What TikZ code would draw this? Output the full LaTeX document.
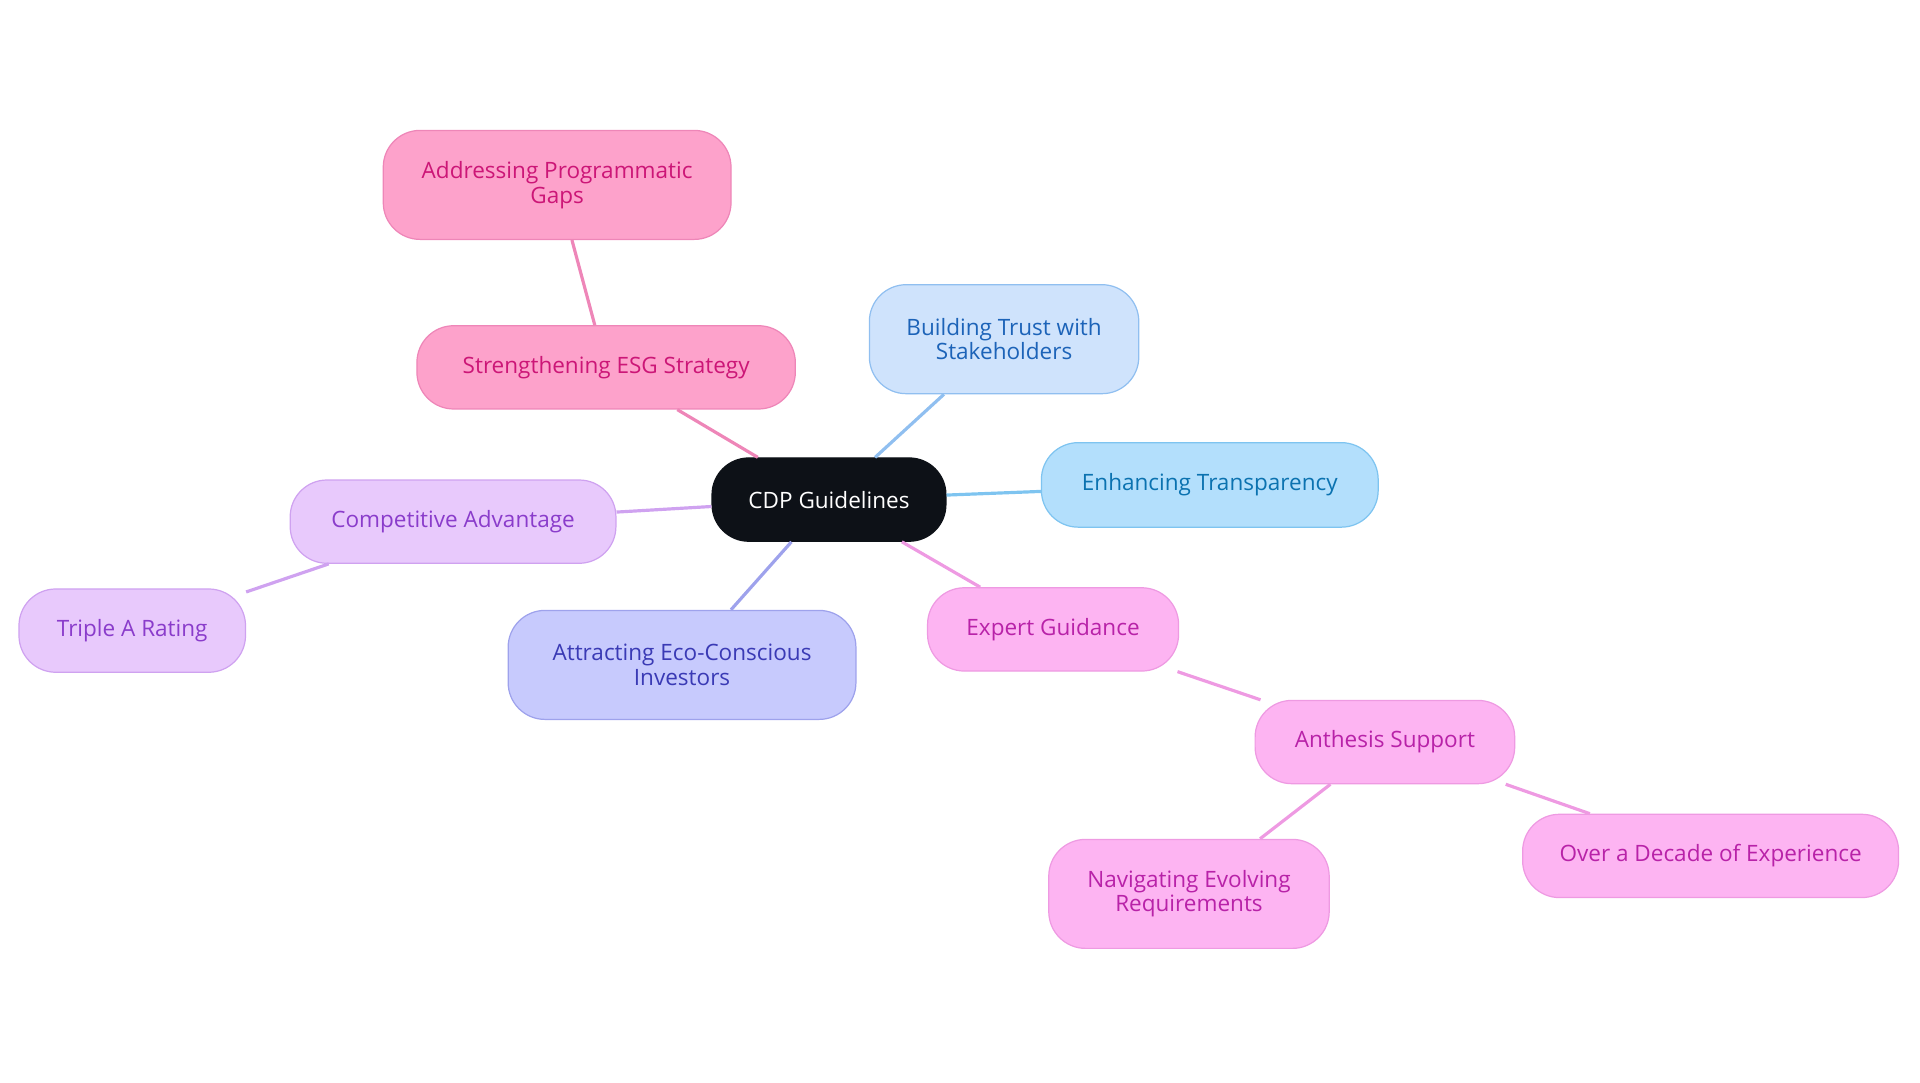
\documentclass[tikz,border=0pt]{standalone}
\usepackage{fontspec}
\setmainfont{Open Sans}
\begin{document}
\begin{tikzpicture}[x=0.5pt,y=-0.5pt,
 box/.style={rounded corners=15pt,draw,line width=0.5pt,inner sep=0pt,align=center,font=\fontsize{9.2}{10}\selectfont},
 ln/.style={line width=1.3pt}]
\definecolor{bfill}{HTML}{CFE3FC}\definecolor{bdraw}{HTML}{90BFF0}\definecolor{btext}{HTML}{1C63B8}
\definecolor{tfill}{HTML}{B3DFFC}\definecolor{tdraw}{HTML}{7EC4F0}\definecolor{ttext}{HTML}{0B72B0}
\definecolor{pfill}{HTML}{FDB4F2}\definecolor{pdraw}{HTML}{EE9AE2}\definecolor{ptext}{HTML}{B822A8}
\definecolor{afill}{HTML}{C7CAFD}\definecolor{adraw}{HTML}{9EA2EC}\definecolor{atext}{HTML}{3A3AB5}
\definecolor{cfill}{HTML}{E8C9FC}\definecolor{cdraw}{HTML}{CFA2F0}\definecolor{ctext}{HTML}{8A3CCB}
\definecolor{sfill}{HTML}{FDA2CB}\definecolor{sdraw}{HTML}{EE86B8}\definecolor{stext}{HTML}{CC1677}
\definecolor{cdp}{HTML}{0D1117}
\useasboundingbox (0,0) rectangle (1568,884);
\node[box,fill=bfill,draw=bdraw,text=btext,minimum width=110pt,minimum height=44.5pt] (bt) at (820,277) {Building Trust with\\Stakeholders};
\node[box,fill=tfill,draw=tdraw,text=ttext,minimum width=137.5pt,minimum height=34.5pt] (et) at (988,396) {Enhancing Transparency};
\node[box,fill=pfill,draw=pdraw,text=ptext,minimum width=102.5pt,minimum height=34pt] (eg) at (860,514) {Expert Guidance};
\node[box,fill=pfill,draw=pdraw,text=ptext,minimum width=106pt,minimum height=34pt] (as) at (1131,606) {Anthesis Support};
\node[box,fill=pfill,draw=pdraw,text=ptext,minimum width=153.5pt,minimum height=34pt] (od) at (1397,699) {Over a Decade of Experience};
\node[box,fill=pfill,draw=pdraw,text=ptext,minimum width=114.5pt,minimum height=44.5pt] (nr) at (971,730) {Navigating Evolving\\Requirements};
\node[box,fill=afill,draw=adraw,text=atext,minimum width=142pt,minimum height=44.5pt] (ai) at (557,543) {Attracting Eco-Conscious\\Investors};
\node[box,fill=cfill,draw=cdraw,text=ctext,minimum width=133pt,minimum height=34pt] (ca) at (370,426) {Competitive Advantage};
\node[box,fill=cfill,draw=cdraw,text=ctext,minimum width=92.5pt,minimum height=34pt] (ta) at (108,515) {Triple A Rating};
\node[box,fill=sfill,draw=sdraw,text=stext,minimum width=154.5pt,minimum height=34pt] (se) at (495,300) {Strengthening ESG Strategy};
\node[box,fill=sfill,draw=sdraw,text=stext,minimum width=142pt,minimum height=44.5pt] (ap) at (455,151) {Addressing Programmatic\\Gaps};
\node[box,fill=cdp,draw=cdp,text=white,minimum width=95.5pt,minimum height=34pt] (c) at (677,408) {CDP Guidelines};
\draw[ln,draw=bdraw] (c) -- (bt);
\draw[ln,draw=tdraw] (c) -- (et);
\draw[ln,draw=pdraw] (c) -- (eg);
\draw[ln,draw=pdraw] (eg) -- (as);
\draw[ln,draw=pdraw] (as) -- (od);
\draw[ln,draw=pdraw] (as) -- (nr);
\draw[ln,draw=adraw] (c) -- (ai);
\draw[ln,draw=cdraw] (c) -- (ca);
\draw[ln,draw=cdraw] (ca) -- (ta);
\draw[ln,draw=sdraw] (c) -- (se);
\draw[ln,draw=sdraw] (se) -- (ap);
\end{tikzpicture}
\end{document}
